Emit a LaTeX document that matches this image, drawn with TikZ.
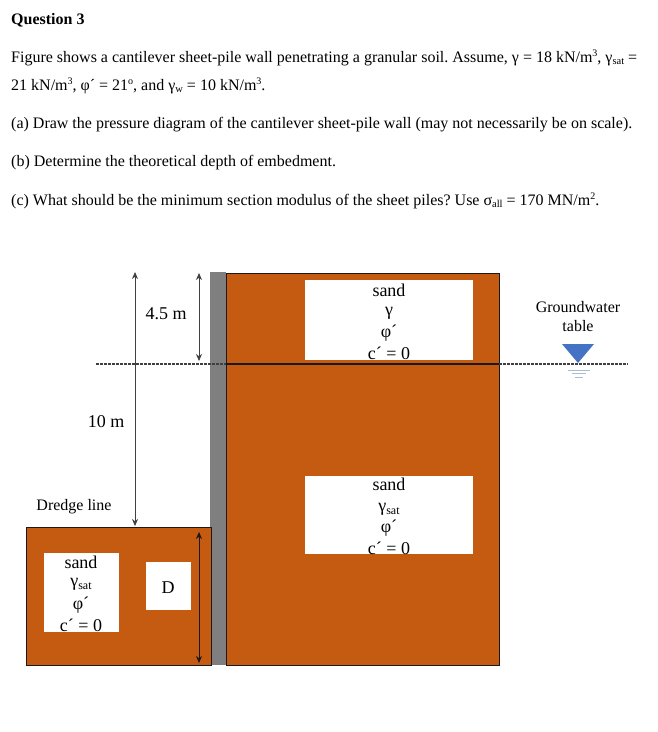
\documentclass[tikz,border=0pt]{standalone}
\usepackage{fontspec}
\usetikzlibrary{arrows.meta}
\setmainfont{Liberation Serif}
\frenchspacing
\definecolor{soilcol}{HTML}{C55A11}
\definecolor{wallcol}{HTML}{7F7F7F}
\definecolor{watercol}{HTML}{4472C4}
\definecolor{ripplecol}{HTML}{A9BBD6}
\newcommand{\lowsub}[1]{\raisebox{-0.3ex}{\fontsize{10.5}{10}\selectfont #1}}
\newcommand{\lowtiny}[1]{\raisebox{-0.4ex}{\fontsize{12}{10}\selectfont #1}}
\newcommand{\topnum}[1]{\raisebox{0.75ex}{\fontsize{10}{10}\selectfont #1}}
\begin{document}
\begin{tikzpicture}[x=1pt, y=-1pt, node distance={19pt}, >={Stealth[length=7pt,width=6pt]},
    line/.style = {anchor=base west, inner sep=0pt, font=\fontsize{16}{18}\selectfont},
    soil/.style = {draw=black!90, fill=soilcol, anchor=north west, inner sep=0pt, line width=1pt},
    wall/.style = {fill=wallcol, anchor=north west, inner sep=0pt},
    label/.style = {fill=white, anchor=north west, inner sep=0pt},
    txt/.style = {inner sep=0pt, font=\fontsize{16}{18}\selectfont, text height=11pt, text depth=3pt},
    big/.style = {inner sep=0pt, font=\fontsize{18}{20}\selectfont, text height=12pt, text depth=3pt},
    dim/.style = {<->, draw=black!75, line width=0.8pt},
    gwt/.style = {draw=black!75, line width=1.2pt, dash pattern=on 3pt off 1pt},
    ripple/.style = {draw=ripplecol, line width=1pt}]
    \useasboundingbox (0,0) rectangle (658,732);
    % question text
    \node[line, font=\fontsize{16}{18}\selectfont\bfseries] (q0) at (11,24) {Question 3};
    \node[line] (q1) at (11,62) {Figure shows a cantilever sheet-pile wall penetrating a granular soil. Assume, γ = 18 kN/m\topnum{3}, γ\lowsub{sat} =};
    \node[line] (q2) at (11,90) {21 kN/m\topnum{3}, φ´ = 21\topnum{o}, and γ\lowsub{w} = 10 kN/m\topnum{3}.};
    \node[line] (q3) at (11,128) {(a) Draw the pressure diagram of the cantilever sheet-pile wall (may not necessarily be on scale).};
    \node[line] (q4) at (11,166) {(b) Determine the theoretical depth of embedment.};
    \node[line] (q5) at (11,205) {(c) What should be the minimum section modulus of the sheet piles? Use σ\lowsub{all} = 170 MN/m\topnum{2}.};
    % soil and wall
    \node[wall, minimum width=16pt, minimum height=393pt] (wall) at (210,272) {};
    \node[soil, minimum width=273pt, minimum height=392pt] (back) at (226,273) {};
    \node[soil, minimum width=185pt, minimum height=138pt] (front) at (26,527) {};
    \node[label, minimum width=168pt, minimum height=80pt] (box1) at (305,280) {};
    \node[label, minimum width=168pt, minimum height=78pt] (box2) at (305,476) {};
    \node[label, minimum width=75pt, minimum height=79pt] (box3) at (44,553) {};
    \node[label, minimum width=45pt, minimum height=48pt] (box4) at (146,562) {};
    % labels in the boxes
    \node[big] (s1) at (389,291.5) {sand};
    \node[big, yshift=-0.5pt] (g1) [below of=s1] {γ};
    \node[big, yshift=-3pt] (f1) [below of=g1] {φ´};
    \node[big, yshift=-2.5pt] (c1) [below of=f1] {c´ = 0};
    \node[big] (s2) at (389,486) {sand};
    \node[big, yshift=-2pt] (g2) [below of=s2] {γ\lowtiny{sat}};
    \node[big, yshift=-2pt] (f2) [below of=g2] {φ´};
    \node[big, yshift=-3pt] (c2) [below of=f2] {c´ = 0};
    \node[big] (s3) at (81,563.5) {sand};
    \node[big, yshift=0.5pt] (g3) [below of=s3] {γ\lowtiny{sat}};
    \node[big, yshift=-4pt] (f3) [below of=g3] {φ´};
    \node[big, yshift=-3pt] (c3) [below of=f3] {c´ = 0};
    \node[big] (dd) at (168,589) {D};
    \node[big] (h1) at (166,315) {4.5 m};
    \node[big] (h2) at (106,423) {10 m};
    \node[txt] (dl) at (74,506) {Dredge line};
    \node[txt] (gw) at (578,308.5) {Groundwater};
    \node[txt] (tb) [below of=gw] {table};
    % dimension ends
    \coordinate (a0) at (199,273);
    \coordinate (a1) at (199,361);
    \coordinate (b0) at (135,272);
    \coordinate (b1) at (135,526);
    \coordinate (e0) at (199,532);
    \coordinate (e1) at (199,663);
    \draw[dim] (a0) -- (a1);
    \draw[dim] (b0) -- (b1);
    \draw[dim, draw=black!90] (e0) -- (e1);
    % water table
    \coordinate (w0) at (96,364);
    \coordinate (w1) at (226,364);
    \coordinate (w2) at (499,364);
    \coordinate (w3) at (628,364);
    \draw[gwt] (w0) -- (w1);
    \draw[draw=black!90, line width=1.3pt] (w1) -- (w2);
    \draw[gwt] (w2) -- (w3);
    \fill[watercol] (562,344) -- (594,344) -- (578,363) -- cycle;
    \coordinate (r0) at (568,370);
    \coordinate (r1) at (590,370);
    \coordinate (r2) at (572,373.5);
    \coordinate (r3) at (586,373.5);
    \coordinate (r4) at (575,377.5);
    \coordinate (r5) at (583,377.5);
    \draw[ripple] (r0) -- (r1);
    \draw[ripple] (r2) -- (r3);
    \draw[ripple] (r4) -- (r5);
\end{tikzpicture}
\end{document}
